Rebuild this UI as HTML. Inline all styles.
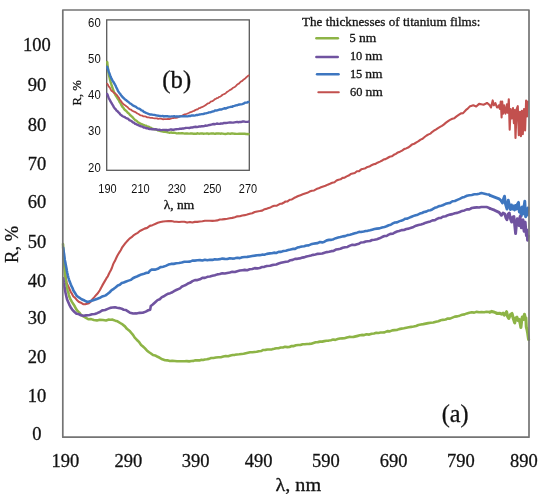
<!DOCTYPE html>
<html><head><meta charset="utf-8"><title>Reflectance spectra</title>
<style>text{stroke:#1a1a1a;stroke-width:0.3px}html,body{margin:0;padding:0;background:#fff;width:550px;height:502px;overflow:hidden}svg{display:block}</style>
</head><body>
<svg width="550" height="502" viewBox="0 0 550 502" font-family="'Liberation Serif', 'Times New Roman', serif" fill="#111">
<rect width="550" height="502" fill="#fff"/>
<text x="36.90" y="50.65" font-size="18.50" text-anchor="middle" >100</text>
<text x="36.90" y="90.85" font-size="18.50" text-anchor="middle" >90</text>
<text x="36.90" y="130.75" font-size="18.50" text-anchor="middle" >80</text>
<text x="36.90" y="169.55" font-size="18.50" text-anchor="middle" >70</text>
<text x="36.90" y="207.65" font-size="18.50" text-anchor="middle" >60</text>
<text x="36.90" y="248.15" font-size="18.50" text-anchor="middle" >50</text>
<text x="36.90" y="286.65" font-size="18.50" text-anchor="middle" >40</text>
<text x="36.90" y="324.15" font-size="18.50" text-anchor="middle" >30</text>
<text x="36.90" y="362.85" font-size="18.50" text-anchor="middle" >20</text>
<text x="36.90" y="401.55" font-size="18.50" text-anchor="middle" >10</text>
<text x="36.90" y="439.95" font-size="18.50" text-anchor="middle" >0</text>
<text x="65.45" y="466.75" font-size="18.50" text-anchor="middle" >190</text>
<text x="128.25" y="466.75" font-size="18.50" text-anchor="middle" >290</text>
<text x="195.55" y="466.75" font-size="18.50" text-anchor="middle" >390</text>
<text x="258.55" y="466.75" font-size="18.50" text-anchor="middle" >490</text>
<text x="325.95" y="466.75" font-size="18.50" text-anchor="middle" >590</text>
<text x="393.65" y="466.75" font-size="18.50" text-anchor="middle" >690</text>
<text x="460.85" y="466.75" font-size="18.50" text-anchor="middle" >790</text>
<text x="523.75" y="466.75" font-size="18.50" text-anchor="middle" >890</text>
<text x="275.5" y="490.5" font-size="18" textLength="45.6" lengthAdjust="spacingAndGlyphs">&#955;, nm</text>
<text transform="translate(18.2,262.9) rotate(-90)" font-size="18.5">R, %</text>
<text x="455.20" y="421.70" font-size="24.20" text-anchor="middle" >(a)</text>
<path d="M63.20,250.00 L63.34,252.07 L63.55,254.11 L63.79,256.76 L64.04,260.25 L64.30,262.82 L64.51,265.36 L64.74,267.80 L64.97,269.74 L65.21,272.70 L65.45,274.55 L65.70,276.31 L66.22,279.88 L66.76,282.71 L67.30,284.52 L68.90,287.78 L70.80,291.94 L72.02,293.91 L73.40,296.47 L74.89,297.62 L76.60,299.66 L78.67,301.73 L80.90,302.70 L83.14,304.16 L85.30,304.29 L88.90,303.19 L90.69,301.72 L92.50,299.09 L94.35,297.10 L96.20,294.93 L98.00,293.03 L99.80,290.23 L101.00,287.98 L102.22,285.64 L103.50,283.38 L104.97,280.86 L106.50,278.14 L107.80,276.28 L108.97,273.79 L110.00,271.65 L110.96,269.98 L112.04,267.53 L113.20,264.12 L114.13,262.28 L115.10,260.63 L116.12,258.22 L117.20,255.97 L118.33,254.01 L119.51,252.17 L120.73,250.21 L122.00,247.66 L123.30,245.83 L124.65,244.05 L126.05,242.39 L127.50,240.81 L129.51,238.61 L131.61,237.21 L133.90,235.04 L135.79,233.88 L137.81,232.83 L139.87,230.96 L141.90,229.95 L144.54,228.63 L147.16,227.88 L149.80,225.88 L152.46,225.16 L155.13,223.99 L157.80,222.82 L160.47,221.99 L163.14,221.45 L165.80,221.29 L168.44,221.11 L171.06,221.06 L173.70,221.59 L176.35,221.69 L179.01,221.95 L181.70,221.70 L184.39,221.76 L187.10,222.59 L190.00,221.90 L192.36,222.47 L194.84,221.87 L197.38,221.88 L199.90,221.43 L202.40,221.29 L204.90,220.82 L207.40,220.71 L209.90,220.74 L212.38,220.87 L214.85,220.70 L217.32,220.39 L219.80,219.51 L222.29,219.37 L224.79,219.11 L227.30,218.82 L229.80,218.34 L232.30,217.88 L234.81,217.23 L237.31,216.35 L239.80,216.32 L242.28,215.45 L244.75,215.15 L247.22,214.58 L249.70,213.76 L252.20,213.27 L254.70,212.07 L257.20,211.43 L259.70,211.07 L262.17,210.65 L264.62,209.16 L267.09,208.61 L269.60,207.84 L271.98,206.61 L274.28,205.79 L276.84,205.71 L280.00,203.80 L281.68,203.77 L283.52,202.79 L285.49,201.50 L287.55,201.45 L289.68,199.79 L291.84,199.46 L294.01,198.01 L296.13,197.06 L298.20,196.03 L300.48,195.17 L302.75,194.29 L305.03,193.42 L307.31,192.80 L309.58,191.55 L311.86,190.68 L314.13,190.44 L316.40,189.12 L318.67,188.36 L320.93,187.22 L323.19,186.40 L325.45,185.77 L327.71,184.67 L329.97,183.78 L332.23,182.74 L334.50,182.20 L336.52,180.55 L338.54,179.67 L340.56,179.26 L342.58,177.88 L344.61,177.68 L346.63,176.36 L348.65,175.54 L350.68,174.10 L352.70,173.55 L354.77,173.04 L356.92,171.26 L359.10,171.16 L361.29,169.34 L363.44,168.84 L365.51,168.23 L367.47,166.97 L369.28,166.59 L370.90,165.53 L373.66,164.33 L375.59,163.88 L377.46,162.72 L380.00,161.62 L381.66,160.82 L383.49,159.58 L385.46,159.13 L387.52,158.01 L389.63,156.75 L391.76,156.28 L393.86,154.82 L395.90,153.84 L397.92,152.43 L399.97,151.67 L402.04,150.57 L404.10,149.06 L406.14,148.40 L408.13,147.55 L410.06,146.16 L411.90,144.59 L414.23,143.76 L416.43,142.36 L418.55,141.16 L420.60,139.68 L422.61,138.70 L424.60,137.02 L426.59,135.50 L428.57,134.39 L430.50,133.62 L432.37,131.81 L434.14,130.48 L435.80,129.63 L438.04,128.07 L440.06,126.84 L441.91,125.82 L443.70,124.58 L445.99,122.62 L448.10,121.07 L450.00,119.83 L452.32,118.75 L454.40,118.15 L456.55,116.43 L458.70,114.93 L460.99,113.37 L463.10,113.10 L466.00,109.92 L467.75,108.67 L469.60,106.60 L473.30,105.19 L476.20,106.48 L479.10,103.86 L481.26,104.29 L483.50,104.79 L487.10,103.00" stroke="#c2504e" stroke-width="2.10" fill="none" stroke-linejoin="round" stroke-linecap="round"/>
<path d="M487.10,103.00 L489.40,104.80 L491.00,107.50 L492.70,100.40 L493.80,105.30 L495.40,103.10 L497.00,107.50 L498.00,107.20 L498.90,105.30 L499.90,109.00 L500.80,101.50 L501.60,117.50 L502.20,101.50 L503.10,113.70 L504.10,105.30 L505.50,113.70 L506.90,104.40 L507.80,112.80 L508.80,99.20 L509.70,129.60 L510.60,109.00 L511.80,118.40 L513.00,108.10 L513.90,123.10 L514.80,110.00 L515.50,138.00 L516.70,109.00 L517.80,106.20 L518.80,135.20 L520.00,111.80 L520.90,136.20 L521.90,110.90 L522.80,134.30 L524.00,109.00 L525.10,130.50 L526.10,100.60 L527.00,116.50 L527.90,101.50" stroke="#c2504e" stroke-width="2.10" fill="none" stroke-linejoin="round" stroke-linecap="round"/>
<path d="M63.00,244.00 L63.08,245.08 L63.19,247.22 L63.32,249.85 L63.47,251.98 L63.62,254.39 L63.79,257.40 L63.95,259.57 L64.10,262.08 L64.27,264.16 L64.45,267.04 L64.63,268.77 L64.81,271.28 L65.00,274.04 L65.20,275.34 L65.40,277.50 L65.77,280.16 L66.16,282.74 L66.57,285.05 L67.00,287.51 L67.63,290.31 L68.29,292.35 L68.90,295.04 L69.57,297.28 L70.40,299.14 L71.91,301.85 L73.60,304.44 L74.97,306.78 L76.50,309.65 L77.83,311.32 L79.33,312.63 L80.90,314.77 L83.41,316.41 L86.00,317.78 L88.33,319.25 L91.10,319.11 L93.83,320.03 L96.95,320.40 L99.80,319.75 L103.03,320.08 L106.00,320.46 L108.23,319.66 L110.51,319.79 L112.60,319.66 L115.27,320.65 L117.50,321.28 L120.60,323.24 L122.58,324.46 L124.92,326.37 L126.90,328.86 L130.00,331.35 L131.37,332.98 L133.00,334.87 L134.73,337.67 L136.40,339.35 L137.98,340.99 L139.55,342.71 L141.12,344.89 L142.70,346.19 L144.77,348.17 L146.84,350.44 L149.10,352.26 L150.99,353.51 L153.00,355.08 L155.06,355.44 L157.10,356.51 L159.71,357.78 L162.32,359.33 L165.10,360.24 L167.37,360.34 L169.75,361.02 L172.18,360.81 L174.60,361.07 L177.00,361.31 L179.40,361.20 L181.80,361.28 L184.20,361.22 L186.66,361.17 L189.16,361.36 L191.55,361.03 L193.70,360.88 L195.40,360.28 L200.00,360.34 L201.41,359.77 L203.04,360.02 L204.85,359.51 L206.83,359.28 L208.94,358.89 L211.18,358.06 L213.51,357.97 L215.91,357.50 L218.35,357.22 L220.82,357.30 L223.29,356.61 L225.74,356.01 L228.14,356.24 L230.47,355.43 L232.70,354.93 L234.88,354.83 L237.06,354.47 L239.24,354.29 L241.42,354.04 L243.60,353.80 L245.78,353.26 L247.95,352.80 L250.13,352.29 L252.31,352.26 L254.49,351.96 L256.67,351.76 L258.85,351.19 L261.03,351.04 L263.22,349.93 L265.40,349.86 L267.58,349.53 L269.77,349.51 L271.96,349.36 L274.14,348.84 L276.33,348.21 L278.52,348.19 L280.71,347.53 L282.89,347.52 L285.08,346.76 L287.27,347.15 L289.46,346.98 L291.64,345.97 L293.83,346.08 L296.02,345.22 L298.20,344.94 L300.38,345.05 L302.57,344.24 L304.75,344.22 L306.93,343.93 L309.11,343.90 L311.29,343.67 L313.47,342.93 L315.65,342.20 L317.82,342.13 L320.00,341.63 L322.18,341.61 L324.36,341.11 L326.54,340.76 L328.72,340.59 L330.90,340.15 L333.10,339.53 L335.35,339.87 L337.63,339.04 L339.93,338.51 L342.24,338.36 L344.55,338.31 L346.85,337.55 L349.12,336.91 L351.37,337.06 L353.57,336.88 L355.73,336.37 L357.82,335.87 L359.83,335.35 L361.76,334.91 L363.60,335.13 L366.47,334.27 L369.16,334.59 L371.67,333.70 L374.04,333.51 L376.29,332.87 L378.44,332.93 L380.51,332.57 L382.52,332.52 L384.50,332.40 L387.30,331.17 L389.84,331.37 L392.20,330.34 L394.47,330.14 L396.75,330.03 L399.10,329.12 L401.52,328.63 L403.94,328.26 L406.35,327.72 L408.76,327.26 L411.18,326.87 L413.60,326.51 L416.03,326.03 L418.46,325.02 L420.90,324.55 L423.34,324.13 L425.77,323.62 L428.20,323.15 L430.71,322.71 L433.31,322.53 L435.91,321.79 L438.40,321.29 L440.70,320.26 L442.70,319.84 L445.67,319.52 L447.83,318.43 L450.00,318.66 L452.44,317.62 L454.87,316.66 L457.30,316.37 L459.70,315.64 L462.10,314.81 L464.50,314.37 L466.93,313.39 L469.36,312.67 L471.80,312.21 L474.23,312.62 L476.67,311.86 L479.10,312.24 L481.67,312.10 L484.24,312.20 L486.40,311.69 L490.00,312.10" stroke="#8db446" stroke-width="2.60" fill="none" stroke-linejoin="round" stroke-linecap="round"/>
<path d="M490.00,312.10 L491.80,311.40 L493.60,311.90 L495.40,312.60 L497.20,313.50 L499.50,313.20 L501.70,314.10 L503.00,313.20 L504.30,315.20 L505.50,313.50 L506.60,311.70 L507.60,316.50 L508.80,318.40 L510.50,314.50 L512.00,313.50 L513.30,318.50 L514.70,322.90 L515.80,318.00 L516.90,317.20 L518.00,320.50 L519.10,319.30 L520.20,323.50 L520.90,327.40 L521.60,321.00 L522.30,317.00 L523.40,319.50 L524.50,314.30 L525.30,318.50 L525.90,317.90 L526.30,326.90 L527.00,329.50 L527.70,333.20 L528.60,339.50" stroke="#8db446" stroke-width="3.10" fill="none" stroke-linejoin="round" stroke-linecap="round"/>
<path d="M63.20,247.70 L63.42,249.49 L63.72,251.87 L64.08,254.03 L64.45,256.85 L64.80,259.92 L65.32,262.26 L65.84,265.38 L66.40,267.95 L66.84,270.82 L67.29,273.10 L67.78,275.25 L68.30,277.29 L69.09,279.81 L69.94,282.31 L70.80,284.45 L71.64,286.39 L72.49,287.99 L73.40,290.50 L74.85,292.77 L76.60,295.67 L78.93,297.44 L81.60,299.23 L84.55,300.56 L87.50,301.97 L90.09,301.26 L92.50,300.56 L94.69,299.77 L96.90,298.93 L99.36,298.05 L102.00,296.62 L103.80,296.09 L105.68,295.35 L107.80,293.79 L109.65,292.24 L111.67,290.09 L113.76,288.79 L115.80,287.19 L117.80,285.47 L119.79,284.79 L121.77,283.05 L123.70,282.51 L126.15,281.45 L128.54,280.62 L131.00,279.87 L132.92,278.26 L134.88,277.23 L136.90,276.47 L139.00,275.54 L141.43,274.44 L144.10,273.75 L146.52,272.84 L148.20,272.80 L150.00,270.65 L152.01,269.49 L154.90,269.65 L157.80,268.83 L160.46,267.15 L163.13,266.69 L165.80,265.88 L168.44,264.55 L171.06,263.92 L173.70,263.87 L176.35,263.20 L179.01,263.02 L181.70,262.53 L184.39,261.72 L187.10,261.73 L190.00,261.60 L192.36,260.61 L194.84,260.60 L197.38,260.31 L199.90,260.13 L202.40,260.53 L204.90,259.78 L207.40,260.29 L209.90,259.73 L212.38,259.90 L214.85,259.18 L217.32,259.43 L219.80,259.15 L222.29,258.60 L224.79,258.86 L227.30,259.02 L229.80,258.18 L232.30,258.59 L234.81,258.35 L237.31,257.80 L239.80,258.15 L242.28,257.26 L244.75,256.96 L247.22,256.90 L249.70,256.42 L252.19,256.02 L254.68,255.65 L257.18,255.20 L259.70,255.15 L262.07,254.66 L264.34,254.72 L266.86,253.86 L270.00,253.37 L271.90,253.29 L273.99,252.65 L276.25,252.94 L278.61,251.91 L281.03,251.89 L283.46,250.96 L285.87,250.78 L288.20,250.08 L290.48,249.53 L292.75,248.88 L295.03,248.83 L297.31,247.52 L299.58,247.11 L301.86,246.51 L304.13,246.27 L306.40,245.48 L308.67,245.33 L310.93,244.36 L313.19,243.75 L315.45,243.38 L317.71,243.14 L319.97,242.04 L322.23,242.39 L324.50,241.74 L326.77,240.39 L329.04,239.89 L331.32,239.88 L333.59,239.18 L335.87,238.16 L338.15,237.56 L340.42,237.07 L342.70,236.38 L345.04,236.15 L347.46,235.14 L349.92,234.70 L352.37,234.09 L354.74,233.30 L356.99,232.63 L359.06,231.90 L360.90,231.96 L363.69,231.40 L365.68,230.95 L367.56,230.85 L370.00,230.35 L372.10,229.75 L374.43,229.08 L376.91,228.60 L379.46,228.37 L382.02,227.51 L384.50,226.93 L386.58,226.27 L388.67,225.29 L390.76,224.77 L392.84,223.41 L394.93,222.57 L397.02,222.42 L399.10,221.40 L401.18,220.64 L403.25,220.00 L405.32,218.68 L407.38,218.58 L409.45,217.67 L411.52,216.73 L413.60,215.88 L415.68,215.16 L417.77,214.69 L419.86,213.61 L421.94,213.02 L424.03,212.02 L426.12,211.61 L428.20,210.58 L430.34,210.19 L432.56,209.22 L434.80,207.85 L436.99,207.19 L439.08,206.13 L441.01,205.71 L442.70,205.27 L445.67,203.85 L447.83,203.17 L450.00,202.84 L452.44,201.27 L454.87,201.03 L457.30,199.85 L459.70,198.84 L462.10,197.60 L464.50,196.95 L466.93,195.78 L469.36,195.34 L471.80,194.96 L474.34,194.29 L476.88,194.24 L479.10,193.73 L481.39,193.09 L483.50,193.45 L486.63,194.29 L489.30,194.59 L490.00,195.40" stroke="#3d76c0" stroke-width="2.60" fill="none" stroke-linejoin="round" stroke-linecap="round"/>
<path d="M490.00,195.40 L494.50,197.10 L499.10,198.80 L501.00,200.50 L502.50,203.00 L503.50,199.00 L504.50,196.20 L505.50,204.00 L507.00,209.00 L508.30,200.20 L509.50,206.00 L510.50,209.50 L511.50,205.00 L512.50,209.00 L513.50,206.00 L514.50,210.00 L515.50,205.50 L516.50,209.00 L517.50,204.00 L518.50,202.40 L519.30,212.00 L520.40,208.00 L521.20,216.00 L522.20,207.00 L523.00,214.00 L523.80,208.00 L524.80,201.10 L525.60,216.80 L526.40,209.00 L527.20,215.00 L528.00,208.00" stroke="#3d76c0" stroke-width="2.90" fill="none" stroke-linejoin="round" stroke-linecap="round"/>
<path d="M63.30,278.20 L63.52,279.88 L63.84,282.43 L64.19,284.79 L64.50,287.58 L64.98,290.05 L65.50,292.69 L66.17,295.74 L67.00,299.16 L68.06,301.71 L69.30,304.57 L70.62,307.19 L72.20,309.53 L74.26,311.74 L76.50,313.68 L78.65,314.03 L80.90,315.23 L83.50,315.70 L86.00,315.40 L89.60,315.02 L92.06,314.25 L94.70,313.96 L97.07,313.15 L99.80,312.01 L102.28,310.38 L105.09,310.00 L107.80,308.84 L110.20,307.84 L112.52,307.53 L115.00,307.26 L117.13,307.75 L119.41,308.09 L121.66,308.64 L123.70,309.75 L125.97,310.06 L127.98,311.34 L130.00,312.74 L133.20,313.48 L136.40,313.41 L139.60,312.83 L142.70,312.76 L145.78,311.60 L148.30,310.25 L150.20,309.64 L150.80,305.97 L152.75,304.50 L155.50,301.97 L157.51,300.15 L159.71,299.26 L161.90,297.16 L163.94,296.28 L165.98,294.91 L168.20,293.69 L170.18,293.16 L172.36,292.26 L174.46,290.89 L176.20,290.04 L180.00,288.40 L181.60,286.80 L183.56,285.88 L185.71,285.03 L187.91,283.56 L190.00,282.83 L192.48,281.13 L194.95,280.10 L197.42,280.10 L199.90,279.32 L202.40,277.81 L204.90,277.90 L207.40,276.82 L209.90,276.56 L212.38,275.87 L214.85,275.20 L217.32,274.36 L219.80,274.03 L222.29,273.27 L224.79,273.54 L227.30,273.05 L229.80,272.55 L232.30,271.83 L234.81,272.00 L237.31,271.15 L239.80,270.56 L242.28,270.22 L244.75,269.85 L247.22,270.22 L249.70,269.31 L252.19,268.94 L254.68,268.15 L257.18,268.39 L259.70,267.97 L262.07,267.06 L264.34,266.84 L266.86,266.07 L270.00,265.80 L271.90,265.15 L273.99,264.83 L276.25,264.57 L278.61,263.57 L281.03,262.77 L283.46,262.18 L285.87,261.73 L288.20,261.44 L290.48,260.19 L292.75,259.85 L295.03,258.91 L297.31,258.84 L299.58,258.39 L301.86,257.66 L304.13,257.41 L306.40,256.49 L308.67,256.03 L310.93,255.49 L313.19,254.86 L315.45,254.51 L317.71,253.86 L319.97,253.79 L322.23,253.54 L324.50,252.69 L326.77,252.11 L329.04,251.72 L331.32,251.14 L333.59,250.98 L335.87,249.59 L338.15,249.17 L340.42,248.71 L342.70,247.83 L345.04,247.29 L347.46,246.91 L349.92,245.62 L352.37,244.81 L354.74,244.98 L356.99,244.18 L359.06,243.65 L360.90,242.48 L363.69,242.32 L365.68,241.48 L367.56,241.25 L370.00,241.02 L372.10,239.98 L374.43,239.69 L376.91,239.19 L379.46,238.35 L382.02,237.04 L384.50,236.03 L386.58,236.01 L388.67,234.64 L390.76,233.83 L392.84,233.75 L394.93,232.43 L397.02,231.54 L399.10,231.02 L401.52,230.15 L403.94,229.97 L406.35,228.96 L408.76,228.62 L411.18,227.73 L413.60,226.96 L416.03,225.70 L418.46,224.93 L420.90,224.40 L423.34,223.75 L425.77,222.64 L428.20,221.96 L430.34,221.44 L432.56,220.42 L434.80,220.27 L436.99,218.89 L439.08,217.97 L441.01,217.83 L442.70,216.75 L445.67,216.26 L447.83,215.15 L450.00,214.61 L452.44,214.11 L454.87,213.20 L457.30,212.85 L459.70,211.97 L462.10,210.91 L464.50,210.42 L466.93,209.33 L469.36,209.36 L471.80,208.00 L474.34,207.63 L476.88,207.39 L479.10,207.53 L481.39,206.98 L483.50,207.06 L486.63,207.02 L489.30,207.91 L490.00,208.50" stroke="#7053a0" stroke-width="2.60" fill="none" stroke-linejoin="round" stroke-linecap="round"/>
<path d="M490.00,208.50 L494.50,210.20 L499.10,212.40 L501.40,215.30 L503.00,213.00 L504.80,214.10 L506.00,218.00 L507.00,219.80 L508.20,214.00 L509.30,213.00 L510.50,219.00 L511.60,222.10 L512.80,217.00 L513.90,216.40 L514.80,226.00 L515.60,233.50 L516.50,224.00 L517.30,218.70 L518.20,223.00 L519.00,225.50 L520.10,216.40 L520.80,224.00 L521.30,227.80 L522.20,221.00 L523.00,219.80 L523.60,228.00 L524.10,231.20 L524.70,224.00 L525.20,222.10 L525.80,230.00 L526.40,235.70 L527.00,230.00 L527.50,240.30 L528.20,236.00" stroke="#7053a0" stroke-width="2.90" fill="none" stroke-linejoin="round" stroke-linecap="round"/>
<rect x="62.8" y="10.0" width="466.2" height="427.2" fill="none" stroke="#747474" stroke-width="1.7" stroke-linejoin="round"/>
<rect x="106.7" y="19.9" width="142.6" height="150.4" fill="#fff" stroke="#595959" stroke-width="1.3"/>
<text x="94.40" y="26.61" font-size="12.2" text-anchor="middle" font-family="'Liberation Sans', Arial, sans-serif" style="stroke:none" textLength="12.6" lengthAdjust="spacingAndGlyphs">60</text>
<text x="94.40" y="62.61" font-size="12.2" text-anchor="middle" font-family="'Liberation Sans', Arial, sans-serif" style="stroke:none" textLength="12.6" lengthAdjust="spacingAndGlyphs">50</text>
<text x="94.40" y="98.91" font-size="12.2" text-anchor="middle" font-family="'Liberation Sans', Arial, sans-serif" style="stroke:none" textLength="12.6" lengthAdjust="spacingAndGlyphs">40</text>
<text x="94.40" y="134.91" font-size="12.2" text-anchor="middle" font-family="'Liberation Sans', Arial, sans-serif" style="stroke:none" textLength="12.6" lengthAdjust="spacingAndGlyphs">30</text>
<text x="94.40" y="172.06" font-size="12.2" text-anchor="middle" font-family="'Liberation Sans', Arial, sans-serif" style="stroke:none" textLength="12.6" lengthAdjust="spacingAndGlyphs">20</text>
<text x="107.50" y="192.70" font-size="12.4" text-anchor="middle" font-family="'Liberation Sans', Arial, sans-serif" style="stroke:none" textLength="18.3" lengthAdjust="spacingAndGlyphs">190</text>
<text x="140.45" y="192.70" font-size="12.4" text-anchor="middle" font-family="'Liberation Sans', Arial, sans-serif" style="stroke:none" textLength="18.3" lengthAdjust="spacingAndGlyphs">210</text>
<text x="176.80" y="192.70" font-size="12.4" text-anchor="middle" font-family="'Liberation Sans', Arial, sans-serif" style="stroke:none" textLength="18.3" lengthAdjust="spacingAndGlyphs">230</text>
<text x="212.30" y="192.70" font-size="12.4" text-anchor="middle" font-family="'Liberation Sans', Arial, sans-serif" style="stroke:none" textLength="18.3" lengthAdjust="spacingAndGlyphs">250</text>
<text x="248.00" y="192.70" font-size="12.4" text-anchor="middle" font-family="'Liberation Sans', Arial, sans-serif" style="stroke:none" textLength="18.3" lengthAdjust="spacingAndGlyphs">270</text>
<text x="163.7" y="208.6" font-size="12" textLength="30.5" lengthAdjust="spacingAndGlyphs">&#955;, nm</text>
<text transform="translate(81.3,105.5) rotate(-90)" font-size="12.6">R, %</text>
<text x="176.75" y="88.30" font-size="24.70" text-anchor="middle" >(b)</text>
<path d="M107.20,62.00 L107.29,63.03 L107.41,63.54 L107.54,64.66 L107.70,66.57 L107.87,67.49 L108.04,68.88 L108.23,70.60 L108.41,71.73 L108.60,73.23 L108.85,74.22 L109.12,75.99 L109.40,76.90 L109.69,78.30 L109.97,79.67 L110.25,80.61 L110.50,81.75 L110.90,83.11 L111.27,83.92 L111.63,85.51 L112.00,86.45 L112.38,87.47 L112.77,88.56 L113.17,90.10 L113.60,91.05 L114.22,92.67 L114.89,93.92 L115.60,95.38 L116.37,96.48 L117.19,97.89 L118.00,99.17 L118.80,100.29 L119.61,102.04 L120.40,102.99 L121.14,104.61 L121.87,106.05 L122.70,107.19 L123.42,107.85 L124.19,109.20 L125.02,110.05 L125.90,110.71 L126.82,111.55 L127.78,112.74 L128.82,113.41 L130.00,115.06 L130.91,115.70 L131.93,116.71 L133.01,117.71 L134.08,118.92 L135.09,120.03 L136.00,120.48 L137.06,121.43 L137.92,122.23 L138.81,122.64 L140.00,123.46 L141.03,123.90 L142.19,124.32 L143.45,124.95 L144.75,125.35 L146.05,125.57 L147.30,126.60 L148.50,126.70 L149.70,127.25 L150.90,127.74 L152.10,128.54 L153.30,129.03 L154.50,129.21 L155.71,129.56 L156.93,129.78 L158.14,130.65 L159.36,130.58 L160.58,131.13 L161.80,131.31 L162.98,131.55 L164.10,131.78 L165.22,131.86 L166.40,131.93 L167.68,132.37 L169.10,132.68 L170.15,132.69 L171.26,132.51 L172.43,132.89 L173.64,132.59 L174.89,132.88 L176.16,133.21 L177.44,133.33 L178.73,133.12 L180.00,133.41 L181.22,133.25 L182.39,133.31 L183.52,133.38 L184.67,133.66 L185.87,133.54 L187.16,133.41 L188.56,133.58 L190.13,133.56 L191.90,133.41 L192.87,133.68 L193.89,133.72 L194.97,133.61 L196.09,133.82 L197.26,133.28 L198.46,133.58 L199.69,133.68 L200.94,133.51 L202.22,133.42 L203.51,133.75 L204.81,133.60 L206.12,133.51 L207.43,133.39 L208.73,133.95 L210.03,133.59 L211.31,133.46 L212.57,133.52 L213.80,133.55 L215.03,133.92 L216.29,133.51 L217.57,133.57 L218.86,133.46 L220.16,133.69 L221.47,133.52 L222.77,133.60 L224.08,133.83 L225.37,133.94 L226.65,133.88 L227.91,133.40 L229.14,133.60 L230.35,133.89 L231.53,133.40 L232.66,133.50 L233.76,133.68 L234.81,133.62 L235.80,133.85 L237.51,133.86 L239.15,133.74 L240.72,133.65 L242.20,133.69 L243.57,133.76 L244.84,133.69 L245.99,134.10 L247.01,133.83 L247.88,134.31 L248.60,134.10" stroke="#8db446" stroke-width="2.40" fill="none" stroke-linejoin="round" stroke-linecap="round"/>
<path d="M107.20,83.80 L107.73,84.51 L108.50,85.98 L109.32,87.16 L110.00,87.83 L110.77,89.73 L111.60,90.88 L112.58,91.39 L113.73,92.77 L114.80,93.15 L116.00,94.15 L117.20,95.45 L117.95,96.57 L118.76,97.51 L119.59,99.13 L120.40,100.40 L121.18,101.30 L121.95,102.53 L122.72,103.41 L123.50,104.39 L124.56,104.88 L125.62,105.67 L126.70,106.48 L127.69,107.14 L128.70,108.59 L130.00,109.38 L131.06,109.72 L132.30,110.72 L133.61,111.34 L134.88,111.89 L136.00,112.50 L137.36,113.53 L138.50,114.02 L140.00,115.04 L141.03,115.39 L142.19,115.56 L143.45,116.40 L144.75,116.28 L146.05,116.70 L147.30,117.39 L148.50,117.28 L149.70,117.62 L150.90,117.88 L152.10,117.97 L153.30,118.15 L154.50,118.30 L155.72,118.44 L156.97,118.32 L158.21,118.90 L159.44,118.70 L160.65,118.65 L161.80,118.94 L163.14,119.26 L164.45,119.19 L165.71,119.11 L166.90,119.12 L168.00,118.93 L169.47,119.07 L170.72,118.73 L172.30,118.24 L173.36,118.04 L174.56,117.73 L175.85,117.75 L177.15,117.53 L178.39,117.10 L179.50,116.43 L180.90,115.88 L182.13,115.84 L183.32,114.96 L184.60,114.30 L185.71,114.13 L186.84,113.75 L188.01,113.29 L189.22,112.78 L190.50,112.18 L191.62,111.81 L192.80,111.27 L194.01,110.85 L195.24,110.13 L196.48,109.49 L197.70,109.29 L198.89,108.20 L200.07,108.04 L201.25,107.28 L202.45,106.92 L203.70,106.23 L205.00,105.44 L206.01,104.89 L207.04,104.06 L208.09,103.30 L209.17,103.08 L210.27,102.11 L211.41,101.32 L212.58,101.02 L213.80,100.15 L214.81,99.22 L215.86,98.91 L216.94,98.07 L218.04,97.86 L219.16,96.86 L220.29,96.61 L221.43,95.74 L222.56,94.74 L223.69,94.25 L224.80,93.88 L225.79,93.08 L226.78,92.10 L227.75,91.58 L228.72,90.87 L229.70,90.09 L230.68,89.71 L231.67,89.07 L232.67,88.06 L233.69,87.51 L234.73,86.92 L235.80,86.14 L236.76,84.96 L237.80,84.09 L238.89,83.72 L240.03,82.45 L241.17,81.42 L242.32,80.86 L243.45,79.62 L244.53,79.00 L245.55,78.14 L246.48,77.12 L247.32,76.53 L248.03,75.84 L248.60,75.50" stroke="#c2504e" stroke-width="1.80" fill="none" stroke-linejoin="round" stroke-linecap="round"/>
<path d="M107.20,66.80 L107.46,67.92 L107.83,68.62 L108.26,69.94 L108.73,71.96 L109.20,72.81 L109.69,74.06 L110.24,75.72 L110.79,76.86 L111.32,78.40 L111.80,79.04 L112.74,81.16 L113.60,82.09 L114.27,83.32 L114.96,84.61 L115.60,85.61 L116.13,86.98 L116.62,88.12 L117.20,89.03 L117.91,90.86 L118.72,92.04 L119.60,93.19 L120.32,94.08 L121.10,95.43 L121.90,96.19 L122.70,97.26 L123.73,98.18 L124.76,99.21 L125.90,99.94 L126.82,100.80 L127.78,101.56 L128.82,102.19 L130.00,103.47 L131.00,103.78 L132.02,104.73 L133.15,105.55 L134.45,106.16 L136.00,106.79 L136.91,107.74 L137.94,108.27 L139.04,108.66 L140.21,109.29 L141.41,110.30 L142.61,110.71 L143.80,111.92 L144.94,112.30 L146.02,112.86 L147.00,113.25 L148.46,113.95 L149.78,114.48 L151.01,114.36 L152.17,114.57 L153.33,114.85 L154.50,114.88 L155.91,115.33 L157.26,115.55 L158.61,115.71 L159.98,116.05 L161.40,116.12 L162.59,115.94 L163.75,116.53 L164.94,116.17 L166.19,116.23 L167.56,116.22 L169.10,116.56 L170.24,116.60 L171.48,116.37 L172.79,116.34 L174.16,116.20 L175.55,116.72 L176.95,116.31 L178.34,116.55 L179.70,116.43 L181.00,116.40 L182.24,116.38 L183.45,116.23 L184.63,116.09 L185.79,116.32 L186.96,116.39 L188.14,116.20 L189.35,115.82 L190.60,115.98 L191.90,115.43 L193.02,115.49 L194.21,115.57 L195.43,115.43 L196.68,114.95 L197.95,114.96 L199.21,114.53 L200.46,114.31 L201.68,114.12 L202.85,114.13 L203.96,113.76 L205.00,113.38 L206.46,113.21 L207.76,112.84 L208.96,112.34 L210.10,112.28 L211.25,111.97 L212.47,111.51 L213.80,111.37 L214.93,110.54 L216.10,110.55 L217.30,110.35 L218.54,109.89 L219.79,109.50 L221.05,109.52 L222.31,109.06 L223.57,108.67 L224.80,108.23 L226.01,108.48 L227.21,107.80 L228.40,107.35 L229.59,107.10 L230.79,106.81 L232.00,106.85 L233.23,106.11 L234.50,105.82 L235.80,105.36 L236.94,105.27 L238.19,104.76 L239.51,104.48 L240.86,104.33 L242.22,104.06 L243.55,103.63 L244.81,102.80 L245.98,102.67 L247.03,102.65 L247.91,101.91 L248.60,102.00" stroke="#3d76c0" stroke-width="2.40" fill="none" stroke-linejoin="round" stroke-linecap="round"/>
<path d="M107.20,93.90 L107.55,94.62 L108.05,96.25 L108.62,97.67 L109.20,98.89 L109.77,99.83 L110.38,101.22 L110.99,102.25 L111.60,103.11 L112.18,104.19 L112.75,105.12 L113.34,106.07 L114.00,107.32 L114.74,108.43 L115.55,109.06 L116.38,110.40 L117.20,110.94 L118.24,112.06 L119.28,113.01 L120.40,114.60 L121.32,115.19 L122.30,115.99 L123.30,116.53 L124.30,116.82 L125.60,117.71 L126.91,118.45 L128.30,118.97 L129.37,120.16 L130.46,120.57 L131.65,121.25 L133.00,122.49 L134.03,122.67 L135.15,123.80 L136.34,124.17 L137.56,124.88 L138.79,125.36 L140.00,125.99 L141.20,126.29 L142.41,126.64 L143.64,127.54 L144.86,127.52 L146.09,128.18 L147.30,128.13 L148.50,128.83 L149.70,128.98 L150.90,129.06 L152.10,129.20 L153.30,129.22 L154.50,129.44 L155.71,129.20 L156.93,129.54 L158.14,129.86 L159.36,129.58 L160.58,130.09 L161.80,130.13 L162.98,129.89 L164.10,129.90 L165.22,129.98 L166.40,129.94 L167.68,130.27 L169.10,129.83 L170.15,129.54 L171.26,129.49 L172.43,129.75 L173.64,129.79 L174.89,129.36 L176.16,129.22 L177.44,129.11 L178.73,129.09 L180.00,128.63 L181.28,128.73 L182.59,128.56 L183.93,128.46 L185.27,128.06 L186.62,127.90 L187.96,127.86 L189.30,128.06 L190.61,127.56 L191.90,127.56 L193.16,127.23 L194.41,126.95 L195.64,126.77 L196.86,127.05 L198.07,126.86 L199.27,126.45 L200.48,126.47 L201.69,126.29 L202.90,126.24 L204.11,126.08 L205.33,125.55 L206.54,125.69 L207.75,125.45 L208.95,125.02 L210.16,124.98 L211.37,124.55 L212.59,124.29 L213.80,124.05 L215.02,124.28 L216.24,123.72 L217.46,123.55 L218.68,123.89 L219.91,123.77 L221.13,123.50 L222.35,123.62 L223.58,123.04 L224.80,123.05 L226.01,122.95 L227.21,122.90 L228.40,122.62 L229.59,122.43 L230.79,122.46 L232.00,122.67 L233.23,122.60 L234.50,122.34 L235.80,122.09 L237.06,121.87 L238.45,122.23 L239.91,121.91 L241.40,121.97 L242.89,121.50 L244.32,121.56 L245.64,121.90 L246.83,121.84 L247.83,121.86 L248.60,121.60" stroke="#7053a0" stroke-width="2.40" fill="none" stroke-linejoin="round" stroke-linecap="round"/>
<text x="302.0" y="25.9" font-size="12.4" textLength="178.5" lengthAdjust="spacingAndGlyphs">The thicknesses of titanium films:</text>
<line x1="316.4" y1="38.2" x2="337.9" y2="38.2" stroke="#8db446" stroke-width="2.5" stroke-linecap="round"/>
<text x="349.6" y="41.8" font-size="12.4" class="t">5</text>
<text x="359.0" y="41.8" font-size="12.8" class="t" textLength="17.3" lengthAdjust="spacingAndGlyphs">nm</text>
<line x1="316.4" y1="57.0" x2="337.7" y2="57.0" stroke="#7053a0" stroke-width="2.6" stroke-linecap="round"/>
<text x="349.9" y="59.8" font-size="12.4" class="t">10</text>
<text x="365.2" y="59.8" font-size="12.8" class="t" textLength="17.3" lengthAdjust="spacingAndGlyphs">nm</text>
<line x1="317.1" y1="74.3" x2="338.5" y2="74.3" stroke="#3d76c0" stroke-width="2.6" stroke-linecap="round"/>
<text x="349.9" y="77.8" font-size="12.4" class="t">15</text>
<text x="365.2" y="77.8" font-size="12.8" class="t" textLength="17.3" lengthAdjust="spacingAndGlyphs">nm</text>
<line x1="318.3" y1="92.3" x2="338.8" y2="92.3" stroke="#c2504e" stroke-width="2.0" stroke-linecap="round"/>
<text x="350.1" y="96.0" font-size="12.4" class="t">60</text>
<text x="365.4" y="96.0" font-size="12.8" class="t" textLength="17.3" lengthAdjust="spacingAndGlyphs">nm</text>
</svg>
</body></html>
